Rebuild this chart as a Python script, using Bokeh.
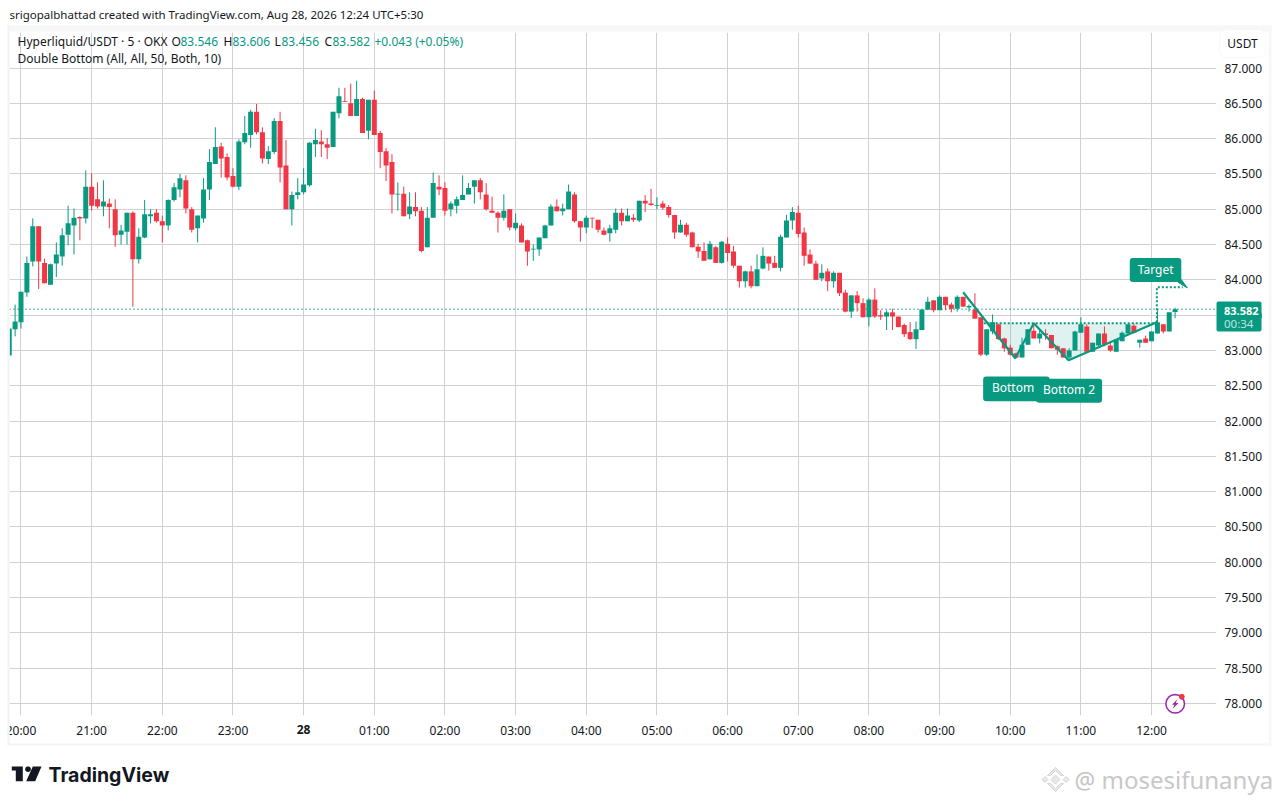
import math
from bokeh.plotting import figure
from bokeh.layouts import column
from bokeh.models import (ColumnDataSource, Range1d, FixedTicker, NumeralTickFormatter,
                          Label, BoxAnnotation, PolyAnnotation)
from bokeh.embed import file_html
from bokeh.resources import INLINE

opens = [82.93,83.30,83.40,
 83.82,84.26,84.76,84.24,83.93,84.23,84.33,
 84.64,84.77,84.89,84.87,85.32,85.14,85.04,85.08,85.00,84.64,
 84.68,84.95,84.29,84.60,84.90,84.95,84.83,84.77,85.13,85.28,
 85.41,85.00,84.73,84.87,85.28,85.64,85.89,85.74,85.47,85.32,
 85.95,86.05,86.38,86.09,85.71,85.81,86.25,85.62,85.00,85.20,
 85.24,85.34,85.92,85.96,85.92,85.88,86.36,86.53,86.50,86.32,
 86.56,86.11,86.55,86.08,85.82,85.67,85.21,85.22,84.93,85.03,
 84.98,84.46,84.88,85.32,85.30,85.00,85.05,85.13,85.21,85.32,
 85.41,85.21,84.98,84.95,84.88,85.00,84.73,84.77,84.56,84.43,
 84.43,84.59,84.77,85.04,84.97,85.00,85.21,84.83,84.74,84.88,
 84.85,84.70,84.66,84.71,84.95,84.83,84.88,84.84,85.12,85.08,
 85.05,85.08,85.03,84.92,84.67,84.78,84.67,84.47,84.41,84.29,
 84.46,84.24,84.51,84.40,84.20,83.98,84.12,83.91,84.16,84.33,
 84.24,84.17,84.60,84.84,84.95,84.67,84.36,84.23,84.02,84.12,
 83.98,84.10,83.82,83.55,83.78,83.67,83.47,83.72,83.50,83.48,
 83.54,83.48,83.36,83.26,83.16,83.29,83.58,83.71,83.57,83.76,
 83.65,83.59,83.76,83.61,83.58,83.47,82.94,83.27,83.37,83.17,
 83.04,82.96,82.90,83.08,83.28,83.17,83.24,83.22,83.06,83.03,
 82.90,83.00,83.25,83.34,82.98,83.07,83.24,83.07,82.98,83.13,
 83.24,83.35,83.11,83.17,83.13,83.24,83.37,83.27,83.546]
closes = [83.31,83.41,83.83,
 84.24,84.76,84.26,83.95,84.22,84.36,84.63,
 84.80,84.88,84.87,85.32,85.05,85.04,85.11,85.03,84.63,84.70,
 84.95,84.29,84.61,84.93,84.93,84.83,84.77,85.13,85.31,85.44,
 85.01,84.71,84.91,85.28,85.67,85.88,85.72,85.45,85.32,85.96,
 86.08,86.38,86.09,85.72,85.82,86.25,85.59,85.00,85.20,85.24,
 85.35,85.94,85.98,85.92,85.87,86.38,86.60,86.52,86.32,86.56,
 86.08,86.55,86.05,85.81,85.62,85.21,85.22,84.90,85.04,84.97,
 84.41,84.88,85.37,85.28,84.98,85.08,85.14,85.20,85.30,85.41,
 85.24,85.00,84.95,84.88,84.98,84.74,84.81,84.53,84.40,84.44,
 84.60,84.77,85.04,84.97,85.01,85.25,84.83,84.74,84.88,84.87,
 84.71,84.64,84.73,84.95,84.83,84.91,84.85,85.12,85.08,85.06,
 85.06,85.02,84.92,84.67,84.78,84.64,84.46,84.40,84.27,84.51,
 84.24,84.54,84.38,84.20,83.98,84.12,83.91,84.15,84.34,84.23,
 84.17,84.61,84.84,84.96,84.65,84.34,84.23,84.00,84.10,83.98,
 84.10,83.81,83.55,83.78,83.67,83.47,83.72,83.48,83.48,83.54,
 83.48,83.33,83.23,83.16,83.30,83.58,83.69,83.57,83.76,83.64,
 83.59,83.76,83.62,83.63,83.45,82.94,83.30,83.40,83.16,83.03,
 82.94,82.90,83.08,83.30,83.17,83.24,83.22,83.03,83.01,82.90,
 83.00,83.27,83.37,82.98,83.11,83.24,83.08,83.00,83.15,83.25,
 83.37,83.25,83.15,83.11,83.27,83.40,83.27,83.54,83.582]
highs = [83.31,83.65,83.83,
 84.33,84.87,84.76,84.30,84.23,84.53,84.73,
 85.05,85.01,84.90,85.55,85.51,85.38,85.41,85.15,85.14,84.78,
 84.95,84.97,84.73,85.13,85.00,85.00,84.91,85.14,85.37,85.50,
 85.48,85.03,84.91,85.44,85.85,86.16,85.94,85.79,85.58,85.99,
 86.32,86.41,86.49,86.16,85.89,86.29,86.38,85.98,85.25,85.44,
 85.58,85.95,86.14,86.12,86.01,86.38,86.72,86.72,86.78,86.82,
 86.58,86.55,86.68,86.11,85.87,85.78,85.38,85.32,85.24,85.24,
 85.03,85.03,85.52,85.48,85.38,85.11,85.18,85.48,85.37,85.41,
 85.44,85.37,85.18,84.97,85.21,85.00,84.94,84.80,84.57,84.50,
 84.60,84.78,85.07,85.14,85.08,85.35,85.24,84.83,84.91,84.88,
 84.85,84.74,84.78,85.01,85.01,85.01,84.93,85.12,85.20,85.29,
 85.17,85.12,85.06,84.92,84.85,84.81,84.68,84.51,84.53,84.55,
 84.48,84.55,84.60,84.48,84.20,84.13,84.20,84.36,84.46,84.33,
 84.34,84.64,84.92,85.03,85.05,84.74,84.43,84.27,84.22,84.16,
 84.12,84.10,83.86,83.78,83.84,83.74,83.74,83.88,83.57,83.57,
 83.59,83.48,83.38,83.40,83.41,83.58,83.76,83.71,83.78,83.76,
 83.68,83.78,83.76,83.65,83.81,83.47,83.30,83.51,83.38,83.18,
 83.08,82.97,83.18,83.30,83.38,83.30,83.30,83.22,83.07,83.03,
 83.03,83.28,83.47,83.37,83.11,83.24,83.34,83.11,83.15,83.27,
 83.37,83.38,83.15,83.21,83.27,83.57,83.37,83.54,83.606]
lows = [82.93,83.20,83.31,
 83.76,84.19,83.87,83.95,83.93,84.04,84.20,
 84.49,84.36,84.56,84.80,84.98,85.01,84.90,84.73,84.47,84.50,
 84.50,83.62,84.23,84.59,84.80,84.81,84.53,84.70,85.11,85.17,
 84.94,84.67,84.53,84.81,85.13,85.64,85.45,85.41,85.31,85.27,
 85.92,85.87,86.06,85.65,85.64,85.78,85.38,85.00,84.77,85.14,
 85.21,85.32,85.74,85.74,85.71,85.88,86.29,86.52,86.32,86.32,
 86.08,85.99,86.05,85.58,85.40,84.94,84.98,84.90,84.86,84.90,
 84.39,84.46,84.88,85.20,84.91,84.90,84.94,85.13,85.21,85.08,
 85.14,84.98,84.95,84.67,84.84,84.70,84.70,84.53,84.20,84.27,
 84.34,84.59,84.77,84.97,84.91,85.00,84.81,84.54,84.66,84.73,
 84.67,84.63,84.54,84.66,84.77,84.83,84.82,84.82,84.96,85.05,
 85.00,84.99,84.88,84.58,84.67,84.61,84.46,84.31,84.27,84.29,
 84.24,84.23,84.26,84.17,83.89,83.89,83.88,83.91,84.15,84.13,
 84.17,84.12,84.60,84.71,84.60,84.20,84.23,84.00,83.98,83.84,
 83.89,83.77,83.54,83.46,83.55,83.47,83.34,83.46,83.43,83.29,
 83.29,83.33,83.19,83.15,83.02,83.29,83.57,83.54,83.57,83.57,
 83.54,83.55,83.62,83.55,83.45,82.92,82.92,83.23,83.15,82.98,
 82.93,82.89,82.90,83.08,83.17,83.10,83.15,83.03,82.94,82.90,
 82.87,83.00,83.25,82.98,82.98,83.06,83.06,82.98,82.98,83.13,
 83.24,83.24,83.04,83.11,83.13,83.24,83.24,83.27,83.456]

first_bar = -2                 # bars counted in 5-minute steps from 20:00
hour_bars = list(range(0, 193, 12))
hour_labels = ["20:00","21:00","22:00","23:00","","01:00","02:00","03:00","04:00",
               "05:00","06:00","07:00","08:00","09:00","10:00","11:00","12:00"]
price_ticks = [78 + 0.5 * i for i in range(19)]
last_price = 83.582

# double-bottom drawing anchors (bar, price)
pattern_bars = [160, 168.85, 172, 177.9, 192.9]
pattern_prices = [83.825, 82.89, 83.386, 82.86, 83.40]
neck_price = 83.386
target_bars = [192.9, 192.9, 197.3]
target_prices = [83.40, 83.896, 83.896]

UP, DOWN = "#089981", "#F23645"
FONT = "Noto Sans"
TXT = "#131722"
X0, X1, Y0, Y1 = -1.953, 203.03, 77.83, 87.503
OX, OY = 1, 1       # page position of the canvas

bars = list(range(first_bar, first_bar + len(opens)))
src = ColumnDataSource(dict(
    x=bars, top=[max(o, c) for o, c in zip(opens, closes)],
    bottom=[min(o, c) for o, c in zip(opens, closes)], high=highs, low=lows,
    color=[UP if c >= o else DOWN for o, c in zip(opens, closes)]))

W, H = 1278, 803
p = figure(width=W, height=H, output_backend="svg", toolbar_location=None,
           x_range=Range1d(X0, X1), y_range=Range1d(Y0, Y1),
           y_axis_location="right", min_border_left=10 - OX, min_border_right=W - (1217 - OX),
           min_border_top=33 - OY, min_border_bottom=H - (716 - OY))
p.background_fill_color = "white"
p.border_fill_color = "white"
p.outline_line_color = None
p.grid.grid_line_color = "#d0d1d3"
p.grid.grid_line_width = 1

p.xaxis.ticker = FixedTicker(ticks=hour_bars)
p.xaxis.major_label_overrides = dict(zip(hour_bars, hour_labels))
p.yaxis.ticker = FixedTicker(ticks=price_ticks)
p.yaxis.formatter = NumeralTickFormatter(format="0.000")
for ax, standoff in ((p.xaxis[0], 0), (p.yaxis[0], 2)):
    ax.axis_line_color = None
    ax.major_tick_line_color = None
    ax.minor_tick_line_color = None
    ax.major_label_text_font = FONT
    ax.major_label_text_font_size = "12px"
    ax.major_label_text_color = TXT
    ax.major_label_standoff = standoff

# second, transparent layer of page furniture: its units are page pixels
top = figure(width=W, height=H, output_backend="svg", toolbar_location=None,
             x_range=Range1d(OX, OX + W), y_range=Range1d(OY + H, OY),
             x_axis_type=None, y_axis_type=None, min_border=0)
top.background_fill_alpha = 0
top.border_fill_alpha = 0
top.outline_line_color = None
top.grid.visible = False

def poly(xs, ys, fill, line=None, width=1):
    top.add_layout(PolyAnnotation(xs=xs, ys=ys, fill_color=fill, fill_alpha=1,
                                  line_color=line, line_width=width, line_alpha=1.0))

def rect(l, t, r, b, fill):
    poly([l, r, r, l], [t, t, b, b], fill)

def label(x, y, s, color=TXT, size=12, align="left", bold=False, font=FONT, alpha=1.0):
    top.add_layout(Label(x=x, y=y, text=s,
                         text_color=color, text_font_size=f"{size}px", text_font=font,
                         text_align=align, text_baseline="middle", text_alpha=alpha,
                         text_font_style="bold" if bold else "normal"))

def box(l, r, t, b, fill, line=None, radius=3):
    top.add_layout(BoxAnnotation(left=l, right=r, top=t, bottom=b,
                                 fill_color=fill, fill_alpha=1, line_color=line,
                                 line_width=1, border_radius=radius))

# shaded pattern
p.patch([pattern_bars[0] + 3.5, pattern_bars[1], pattern_bars[2]],
        [neck_price, pattern_prices[1], neck_price], color=UP, alpha=0.13, line_width=0)
p.patch([pattern_bars[2], pattern_bars[3], pattern_bars[4]],
        [neck_price, pattern_prices[3], neck_price], color=UP, alpha=0.13, line_width=0)

p.line([X0, X1], [last_price, last_price], color=UP, line_width=1.5, line_dash="1 3")

p.segment("x", "high", "x", "low", color="color", line_width=1, source=src)
p.vbar("x", 0.85, "top", "bottom", fill_color="color", line_color=None, source=src)

p.line([pattern_bars[0] + 3.5, pattern_bars[4]], [neck_price, neck_price], color=UP,
       line_width=2, line_dash="2 2")
p.line(target_bars, target_prices, color=UP, line_width=2, line_dash="2 2")
p.line(pattern_bars, pattern_prices, color=UP, line_width=2.2)

# pane frame
rect(1, 20, 10, 746, "white")
rect(8, 26, 1272, 32, "#f7f7f7")
rect(8, 26, 10, 746, "#f3f3f3")
rect(8, 744, 1272, 746, "#f3f3f3")
rect(1269, 26, 1272, 746, "#f7f7f7")

# price tag and currency box
box(1217, 1262, 302, 332, UP, radius=2)
label(1224.5, 311, "83.582", "white", 11, bold=True)
label(1224.5, 324, "00:34", "white", 11.5, alpha=0.75)
box(1220, 1266, 30, 58, "white", line="#e6e8ee", radius=6)
label(1243, 44, "USDT", size=12, align="center")

# pattern labels
p.add_layout(BoxAnnotation(left=163.4, right=174.7, top=82.63, bottom=82.28, fill_color=UP,
                           fill_alpha=1, line_color=None, border_radius=3))
p.add_layout(Label(x=164.9, y=82.47, text="Bottom 1", text_color="white", text_font=FONT,
                   text_font_size="12px", text_baseline="middle"))
p.add_layout(BoxAnnotation(left=172.4, right=183.6, top=82.60, bottom=82.26, fill_color=UP,
                           fill_alpha=1, line_color=None, border_radius=3))
p.add_layout(Label(x=178, y=82.44, text="Bottom 2", text_color="white", text_font=FONT,
                   text_font_size="12px", text_baseline="middle", text_align="center"))
p.add_layout(BoxAnnotation(left=188.3, right=197.05, top=84.31, bottom=83.97, fill_color=UP,
                           fill_alpha=1, line_color=None, border_radius=3))
p.add_layout(PolyAnnotation(xs=[197.05, 198.07, 196.5], ys=[84.004, 83.886, 83.966],
                            fill_color=UP, fill_alpha=1, line_color=UP, line_alpha=1))
p.add_layout(Label(x=192.7, y=84.14, text="Target", text_color="white", text_font=FONT,
                   text_font_size="12px", text_baseline="middle", text_align="center"))

# header
label(10, 15, "srigopalbhattad created with TradingView.com, Aug 28, 2026 12:24 UTC+5:30", size=11.5)
label(18, 42, "Hyperliquid/USDT · 5 · OKX")
for x, s, c in [(172, "O", TXT), (181, "83.546", UP), (224, "H", TXT), (233, "83.606", UP),
                (275, "L", TXT), (282, "83.456", UP), (325, "C", TXT), (333, "83.582", UP),
                (375, "+0.043 (+0.05%)", UP)]:
    label(x, 42, s, c)
label(18, 59, "Double Bottom (All, All, 50, Both, 10)")
label(304, 730, "28", bold=True, align="center")

# TradingView logo
poly([12.3, 23.3, 23.3, 16.3, 16.3, 12.3], [767, 767, 781.7, 781.7, 771, 771], "#131722")
poly([33.3, 42, 35.7, 26.7], [767, 767, 781.7, 781.7], "#131722")
ang = [i * math.pi / 8 for i in range(16)]
poly([28.5 + 2.8 * math.cos(a) for a in ang], [769.7 + 2.8 * math.sin(a) for a in ang], "#131722")
label(49, 775, "TradingView", "#131722", 19.5, bold=True, font="Inter")

# lightning badge
poly([1175.7 + 9.3 * math.cos(a) for a in ang], [704.3 + 9.3 * math.sin(a) for a in ang],
     "white", "#9c27b0", 1.5)
poly([1178, 1172.5, 1175, 1173, 1179, 1176.2], [699.5, 705.3, 705.3, 709.5, 703.5, 703.5], "#9c27b0")
poly([1182.3 + 2.9 * math.cos(a) for a in ang], [697.3 + 2.9 * math.sin(a) for a in ang], "#F23645")

# watermark
for cx, cy, r in [(1056, 780, 4.5), (1045.5, 780, 3), (1066.5, 780, 3)]:
    poly([cx, cx + r, cx, cx - r], [cy - r, cy, cy + r, cy], "#e9e9e9", "#d4d4d4", 1)
poly([1056, 1064, 1061, 1056, 1051, 1048], [768, 776, 776, 771, 776, 776], "#e9e9e9", "#d4d4d4", 1)
poly([1056, 1064, 1061, 1056, 1051, 1048], [792, 784, 784, 789, 784, 784], "#e9e9e9", "#d4d4d4", 1)
label(1075, 780, "@", "#c4c4c4", 23)
label(1102, 780, "mosesifunanya", "#c8c8c8", 24)

layer = column(top, styles={"position": "absolute", "left": "0px", "top": "0px"})
open("out.html", "w").write(file_html(column(column(p), layer), INLINE))
